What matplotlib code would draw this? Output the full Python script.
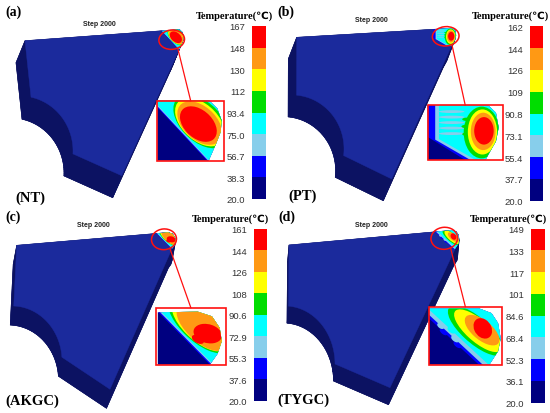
import numpy as np
import matplotlib.pyplot as plt
from matplotlib.patches import Polygon, Ellipse, Rectangle
from matplotlib.colors import ListedColormap, BoundaryNorm
from matplotlib.cm import ScalarMappable
from matplotlib.transforms import Affine2D

W, H = 550, 414

# ---- chart data ----
band_colors = ['#000080', '#0000ff', '#87ceeb', '#00ffff',
               '#00dd00', '#ffff00', '#ff9914', '#ff0000']
panel_tags = ['(a)', '(b)', '(c)', '(d)']
method_names = ['(NT)', '(PT)', '(AKGC)', '(TYGC)']
step_label = 'Step 2000'
cbar_title = 'Temperature(\u2103)'
temp_nt = ['20.0', '38.3', '56.7', '75.0', '93.4', '112', '130', '148', '167']
temp_pt = ['20.0', '37.7', '55.4', '73.1', '90.8', '109', '126', '144', '162']
temp_akgc = ['20.0', '37.6', '55.3', '72.9', '90.6', '108', '126', '144', '161']
temp_tygc = ['20.0', '36.1', '52.3', '68.4', '84.6', '101', '117', '133', '149']
temp_labels = [temp_nt, temp_pt, temp_akgc, temp_tygc]

face_col = '#1b2a9c'
side_col = '#0c1262'


def frame(ang):
    t = np.radians(ang)
    return np.array([np.cos(t), np.sin(t)]), np.array([np.sin(t), -np.cos(t)])


def band(o, ang, s, gap, a, b):
    # ellipse whose lower-left rim sits 'gap' above a reference line
    d, n = frame(ang)
    c = np.array(o) + s * d + (gap + b) * n
    return (c[0], c[1], a, b, ang)


def half(o, ang, gap):
    # everything above a line parallel to the reference line
    d, n = frame(ang)
    p = np.array(o) + gap * n
    return [p - 80 * d, p + 220 * d, p + 220 * d + 300 * n, p - 80 * d + 300 * n]


# hot-spot shapes, in a 0..100 box over each zoom window
o = (0, 11)
nt_shapes = [
    ('p', 1, half(o, 50, 0)),
    ('p', 2, half(o, 50, 1.3)),
    ('p', 3, half(o, 50, 2.6)),
    ('e', 4, band(o, 50, 60, 3.6, 52, 31)),
    ('e', 5, band(o, 50, 60, 4.6, 47, 28.5)),
    ('e', 6, band(o, 50, 61, 5.8, 42, 26)),
    ('e', 7, band(o, 50, 61, 7.2, 34, 22)),
]
pt_shapes = [
    ('p', 1, [(0, 0), (100, 0), (100, 100), (50, 100), (0, 58)]),
    ('p', 2, [(10, 0), (100, 0), (100, 100), (57, 100), (10, 63)]),
    ('p', 3, [(15, 0), (100, 0), (100, 100), (64, 100), (15, 62)]),
] + [('e', 2, (32, v, 17, 2.6, 0)) for v in (12, 22, 32, 42, 52)] + [
    ('e', 4, (72, 50, 24, 47, 0)),
    ('e', 4, (52, 26, 6, 3, 0)),
    ('e', 4, (51, 39, 6, 3, 0)),
    ('e', 4, (52, 53, 6, 3, 0)),
    ('e', 5, (73, 49, 19.5, 41, 0)),
    ('e', 6, (74, 48, 16.5, 34, 0)),
    ('e', 7, (75, 47, 13, 25, 0)),
]
o = (0, 3.4)
akgc_shapes = [
    ('p', 1, half(o, 51, 0)),
    ('p', 2, half(o, 51, 2)),
    ('p', 3, half(o, 51, 3.8)),
    ('e', 4, band(o, 51, 58, 5.5, 62, 27)),
    ('e', 5, band(o, 51, 60, 7.5, 56, 25)),
    ('e', 6, band(o, 51, 65, 9, 50, 23)),
    ('e', 7, (74, 45, 21, 16, 25)),
    ('e', 7, (60, 55, 10, 6, 40)),
]
o = (0, 20)
tygc_shapes = [
    ('p', 1, half(o, 49, 0)),
    ('e', 1, (20, 43, 7, 3.5, 49)),
    ('e', 1, (39, 65, 7, 3.5, 49)),
    ('p', 2, half(o, 49, 4)),
    ('e', 2, (16, 33, 6, 3.5, 49)),
    ('e', 2, (36, 55, 7, 4, 49)),
    ('p', 3, half(o, 49, 10)),
    ('e', 3, (31, 40, 7, 4, 49)),
    ('e', 4, band(o, 49, 58, 15, 54, 20)),
    ('e', 5, band(o, 49, 60, 20, 46, 17)),
    ('e', 6, band(o, 49, 63, 27, 32, 15)),
    ('e', 7, (74, 37, 18, 12, 71)),
]
hot_shapes = [nt_shapes, pt_shapes, akgc_shapes, tygc_shapes]

# ---- layout of each panel (pixels inside a 275 x 207 cell) ----
panels = [
    dict(org=(0, 0), p1=(25, 41.7), p4=(121.7, 176.7),
         arc=(20, 152, 53, 55, -3, 78), shift=(-9, 22),
         clip=[(0, 0), (78, 0), (90, 13), (96.5, 33), (95, 52), (88, 72), (77, 100), (0, 100)],
         mini=(162.3, 30.5, 22, 19.8), inset=(157.3, 101.7, 66.7, 60),
         marker=(171.7, 40.7, 25.7, 19.3), cbar=(252, 27, 14, 173),
         title=(234, 16), step=(99, 24), tag=(5, 12), method=(15, 198)),
    dict(org=(275, 0), p1=(21.7, 38.3), p4=(116.7, 180),
         arc=(17, 150, 52, 54, -7, 85), shift=(-8.4, 21.7),
         clip=[(0, 0), (81, 1), (91, 14), (94.6, 41), (91, 66), (83, 85), (77, 100), (0, 100)],
         mini=(158.2, 29, 24, 17.6), inset=(152.7, 106, 75, 55),
         marker=(170.7, 37.3, 26.7, 19.3), cbar=(255, 27.3, 13.3, 174.4),
         title=(235, 16), step=(96.7, 20), tag=(2, 12.3), method=(13, 196.7)),
    dict(org=(0, 207), p1=(16.7, 39.3), p4=(110, 183.3),
         arc=(12, 155, 50, 55, 4, 88), shift=(-3.5, 19),
         clip=[(3, 8), (60, 7), (80, 15), (91, 35), (94, 58), (88, 80), (77, 99), (3, 99)],
         mini=(154.9, 25.2, 22, 18), inset=(155.7, 101.7, 70.3, 57.6),
         marker=(164, 33.3, 25, 20.7), cbar=(254, 22.7, 12.7, 172.3),
         title=(230, 12.3), step=(93, 19), tag=(5, 10), method=(5, 194)),
    dict(org=(275, 207), p1=(14, 39), p4=(115, 181.7),
         arc=(10, 158, 50, 58, 0, 86), shift=(-1.5, 17),
         clip=[(0, 3), (69, 3), (86, 11), (95, 28), (98.6, 54), (95, 76), (83, 99), (0, 99)],
         mini=(161.5, 23.7, 23, 18.5), inset=(154, 100.7, 72.7, 58.6),
         marker=(169.3, 32.3, 26.7, 22), cbar=(256, 22.7, 14, 174),
         title=(233, 12.3), step=(96.7, 18.3), tag=(3, 10), method=(2, 193.3)),
]

serif = ['Liberation Serif', 'DejaVu Serif']
serif_c = ['Liberation Serif', 'DejaVu Sans']
sans = ['Liberation Sans', 'DejaVu Sans']

fig = plt.figure(figsize=(5.5, 4.14), dpi=100)
ax = fig.add_axes([0, 0, 1, 1])
ax.set_xlim(0, W)
ax.set_ylim(H, 0)
ax.axis('off')

cmap = ListedColormap(band_colors)


def draw_shapes(shapes, tr, clip, min_level=0):
    for kind, lev, geo in shapes:
        if lev < min_level:
            continue
        col = band_colors[lev]
        if kind == 'e':
            cu, cv, a, b, ang = geo
            p = Ellipse((cu, cv), 2 * a, 2 * b, angle=ang, fc=col, ec='none', transform=tr)
        else:
            p = Polygon(geo, closed=True, fc=col, ec='none', transform=tr)
        ax.add_patch(p)
        p.set_clip_path(clip)


for k, g in enumerate(panels):
    ox, oy = g['org']
    T = Affine2D().translate(ox, oy) + ax.transData
    mx, my, mw, mh = g['mini']
    ix, iy, iw, ih = g['inset']

    # plate top face outline
    corner = [(mx + u / 100 * mw, my + v / 100 * mh) for u, v in g['clip'][1:-1]]
    cx, cy, rx, ry, t0, t1 = g['arc']
    ts = np.radians(np.linspace(t0, t1, 40))
    arc = [(cx + rx * np.cos(t), cy - ry * np.sin(t)) for t in ts]
    top = np.array([g['p1']] + corner + [g['p4']] + arc)
    sh = np.array(g['shift'])

    # side walls
    for i in range(len(top)):
        a_, b_ = top[i], top[(i + 1) % len(top)]
        ax.add_patch(Polygon([a_, b_, b_ + sh, a_ + sh], closed=True,
                             fc=side_col, ec=side_col, lw=0.4, transform=T))
    ax.add_patch(Polygon(top + sh, closed=True, fc=side_col, ec=side_col, lw=0.4, transform=T))
    face = Polygon(top, closed=True, fc=face_col, ec=face_col, lw=0.3, transform=T)
    ax.add_patch(face)

    # small heated spot on the plate
    Tm = Affine2D().scale(mw / 100, mh / 100).translate(ox + mx, oy + my) + ax.transData
    draw_shapes(hot_shapes[k], Tm, face, min_level=1)

    # zoomed window
    Ti = Affine2D().scale(iw / 100, ih / 100).translate(ox + ix, oy + iy) + ax.transData
    ax.add_patch(Rectangle((0, 0), 100, 100, fc='white', ec='none', transform=Ti))
    plate_in = Polygon(g['clip'], closed=True, fc=band_colors[0], ec='none', transform=Ti)
    ax.add_patch(plate_in)
    draw_shapes(hot_shapes[k], Ti, plate_in)
    ax.add_patch(Rectangle((0, 0), 100, 100, fc='none', ec='#ff1010', lw=1.2, transform=Ti))

    # marker ellipse and leader line
    ecx, ecy, ew, eh = g['marker']
    ax.add_patch(Ellipse((ecx, ecy), ew, eh, angle=-5, fc='none', ec='#ff1010', lw=1.1, transform=T))
    phi = np.radians(62)
    ax.plot([ecx + ew / 2 * np.cos(phi), ix + iw * 0.5],
            [ecy + eh / 2 * np.sin(phi), iy], color='#ff1010', lw=0.9, transform=T)

    # colour bar
    bx, by, bw, bh = g['cbar']
    cax = fig.add_axes([(ox + bx) / W, 1 - (oy + by + bh) / H, bw / W, bh / H])
    vals = [float(t) for t in temp_labels[k]]
    norm = BoundaryNorm(vals, cmap.N)
    cb = fig.colorbar(ScalarMappable(norm=norm, cmap=cmap), cax=cax, ticks=vals)
    cb.outline.set_visible(False)
    cax.yaxis.set_ticks_position('left')
    cax.tick_params(length=0, pad=5)
    cb.set_ticklabels(temp_labels[k])
    for lab in cax.get_yticklabels():
        lab.set_fontfamily(sans)
        lab.set_fontsize(6.8)
        lab.set_color('#333333')

    # text
    tx, ty = g['title']
    ax.text(ox + tx, oy + ty, cbar_title, ha='center', va='center',
            fontsize=7.5, fontweight='bold', family=serif_c)
    sx, sy = g['step']
    ax.text(ox + sx, oy + sy, step_label, ha='center', va='center',
            fontsize=5, fontweight='bold', family=sans, color='#222222')
    gx, gy = g['tag']
    ax.text(ox + gx, oy + gy, panel_tags[k], ha='left', va='center',
            fontsize=10, fontweight='bold', family=serif)
    nx, ny = g['method']
    ax.text(ox + nx, oy + ny, method_names[k], ha='left', va='center',
            fontsize=10.5, fontweight='bold', family=serif)

fig.savefig('out.png', dpi=100)
